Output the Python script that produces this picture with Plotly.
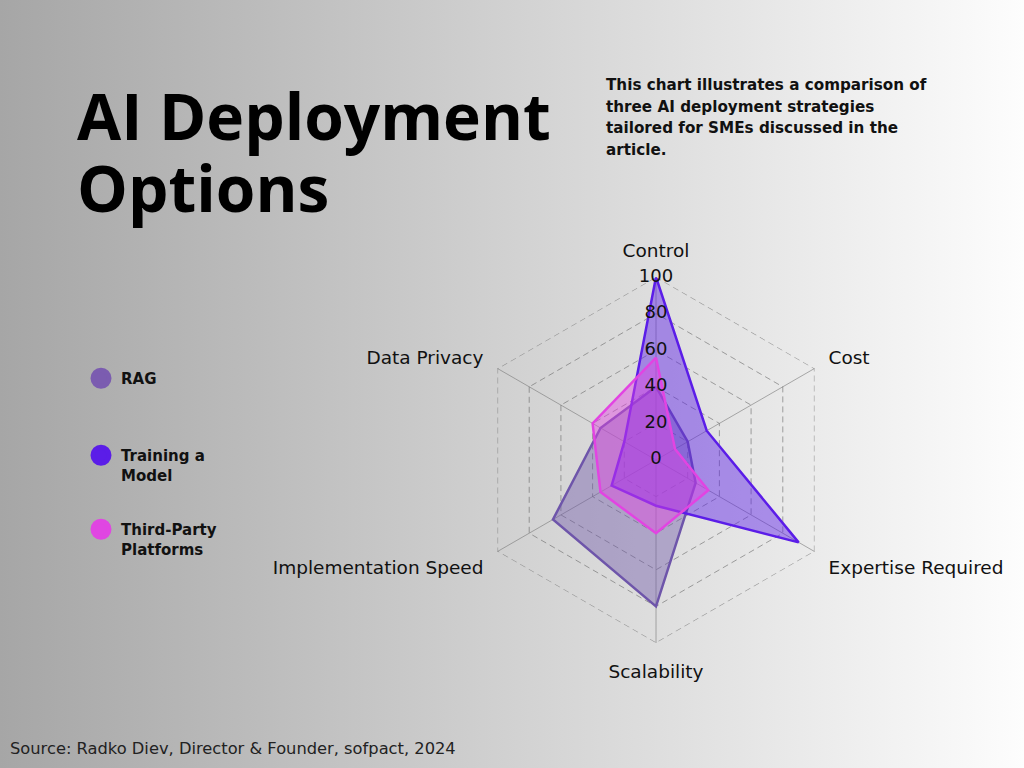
import base64
import plotly.graph_objects as go

# ---------------- data ----------------
categories = ["Control", "Cost", "Expertise Required", "Scalability",
              "Implementation Speed", "Data Privacy"]
series_names = ["RAG", "Training a Model", "Third-Party Platforms"]
legend_labels = ["RAG", "Training a<br>Model", "Third-Party<br>Platforms"]
rag_values = [40, 20, 25, 80, 65, 35]
training_values = [100, 32, 90, 25, 28, 20]
third_party_values = [56, 12, 33, 40, 35, 40]
radial_ticks = [0, 20, 40, 60, 80, 100]

line_colors = ["#6e55aa", "#5b1de8", "#e244e2"]
fill_colors = ["rgba(110,85,170,0.42)", "rgba(91,29,232,0.45)", "rgba(226,68,226,0.45)"]
dot_colors = ["#7b5cb0", "#5b1de8", "#e046e2"]

title_lines = ["AI Deployment", "Options"]
subtitle_lines = ["This chart illustrates a comparison of",
                  "three AI deployment strategies",
                  "tailored for SMEs discussed in the",
                  "article."]
source_text = "Source: Radko Diev, Director & Founder, sofpact, 2024"

REG = "DejaVu Sans"
BOLD = "DejaVu Sans"
grid_col = "rgba(105,105,105,0.6)"

fig = go.Figure()

# outer dashed hexagon (grid at the top tick)
outer = radial_ticks[-1]
fig.add_trace(go.Scatterpolar(
    r=[outer] * (len(categories) + 1), theta=categories + categories[:1],
    mode="lines", line=dict(color=grid_col, width=1.2, dash="6px,4px"),
    showlegend=False, hoverinfo="skip"))

all_values = [rag_values, training_values, third_party_values]
for name, vals, lc, fc in zip(series_names, all_values, line_colors, fill_colors):
    fig.add_trace(go.Scatterpolar(
        r=vals + vals[:1], theta=categories + categories[:1],
        mode="lines", fill="toself", fillcolor=fc,
        line=dict(color=lc, width=2.5),
        name=name, showlegend=False, hoverinfo="skip"))

# radial tick labels drawn on the Control spoke
# (plotly hides a point lying exactly on the polar centre, so the "0" label
#  is nudged by a negligible amount along the spoke)
tick_font = dict(family=REG, size=18, color="#111")
label_r = [t if t != radial_ticks[0] else t + 0.3 for t in radial_ticks]
fig.add_trace(go.Scatterpolar(
    r=label_r, theta=[categories[0]] * len(radial_ticks),
    mode="text", text=[str(t) for t in radial_ticks],
    textposition="middle center", textfont=tick_font,
    showlegend=False, hoverinfo="skip", cliponaxis=False))

# legend-only entries (circles)
legend_ids = ["legend", "legend2", "legend3"]
for lbl, dc, lid in zip(legend_labels, dot_colors, legend_ids):
    fig.add_trace(go.Scatterpolar(
        r=[None], theta=[None], mode="markers",
        marker=dict(color=dc, size=16, line=dict(color=dc, width=5)),
        name=lbl, showlegend=True, legend=lid))

legend_common = dict(bgcolor="rgba(0,0,0,0)", borderwidth=0,
                     font=dict(family=BOLD, size=15, color="#111", weight="bold"),
                     xanchor="left", yanchor="top", valign="top")
W, H = 1024, 768
CX, CY, RAD = 656, 460, 183
fig.update_layout(
    width=W, height=H,
    margin=dict(l=0, r=0, t=0, b=0),
    paper_bgcolor="#d4d4d4",
    polar=dict(
        domain=dict(x=[(CX - RAD) / W, (CX + RAD) / W],
                    y=[(H - CY - RAD) / H, (H - CY + RAD) / H]),
        bgcolor="rgba(0,0,0,0)",
        gridshape="linear",
        radialaxis=dict(range=[radial_ticks[0], radial_ticks[-1]], tickvals=radial_ticks,
                        showticklabels=False, ticks="", showline=False,
                        gridcolor=grid_col, griddash="6px,4px", gridwidth=1.2),
        angularaxis=dict(direction="clockwise", rotation=90, showline=False,
                         gridcolor="rgba(120,120,120,0.6)", gridwidth=1.2,
                         ticks="outside", ticklen=12, tickcolor="rgba(0,0,0,0)",
                         tickfont=dict(family=REG, size=18.5, color="#111")),
    ),
    legend=dict(x=81 / W, y=(768 - 362) / H, **legend_common),
    legend2=dict(x=81 / W, y=(768 - 439) / H, **legend_common),
    legend3=dict(x=81 / W, y=(768 - 513) / H, **legend_common),
)

# gradient background as an svg image
svg = ('<svg xmlns="http://www.w3.org/2000/svg" width="1024" height="768">'
       '<defs><linearGradient id="g" x1="0" y1="0" x2="1" y2="0">'
       '<stop offset="0" stop-color="#a6a6a6"/><stop offset="1" stop-color="#fdfdfd"/>'
       '</linearGradient></defs><rect width="1024" height="768" fill="url(#g)"/></svg>')
uri = "data:image/svg+xml;base64," + base64.b64encode(svg.encode()).decode()
fig.add_layout_image(dict(source=uri, xref="paper", yref="paper", x=0, y=1,
                          sizex=1, sizey=1, xanchor="left", yanchor="top",
                          sizing="stretch", layer="below"))

title_font = dict(family="Open Sans", size=64, color="#000", weight="bold")
for i, line in enumerate(title_lines):
    fig.add_annotation(text=line, xref="paper", yref="paper",
                       x=75 / W, y=(768 - (116 + 72 * i)) / H,
                       xanchor="left", yanchor="middle", showarrow=False,
                       font=title_font)

for i, line in enumerate(subtitle_lines):
    fig.add_annotation(text=line, xref="paper", yref="paper",
                       x=604 / W, y=(768 - (85 + 21.7 * i)) / H,
                       xanchor="left", yanchor="middle", showarrow=False,
                       font=dict(family=BOLD, size=15.2, color="#111", weight="bold"))

fig.add_annotation(text=source_text, xref="paper", yref="paper",
                   x=8 / W, y=(768 - 748) / H, xanchor="left", yanchor="middle",
                   showarrow=False, font=dict(family=REG, size=16.3, color="#222"))

fig.write_html("out.html")
